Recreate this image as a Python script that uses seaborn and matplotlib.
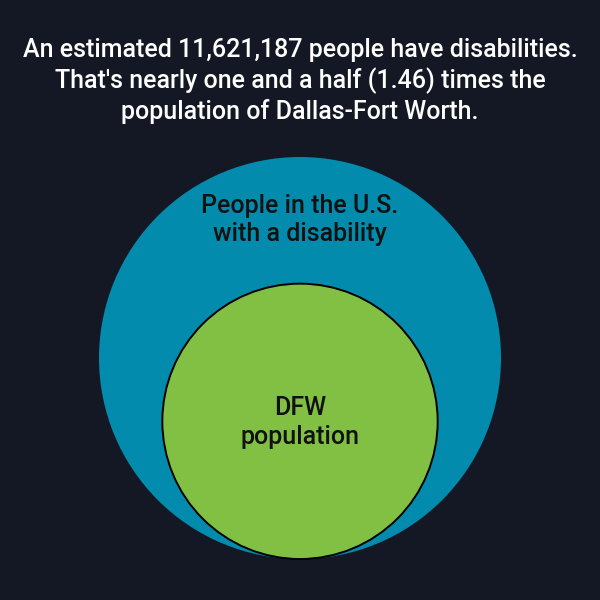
import matplotlib
matplotlib.use("Agg")
import matplotlib.pyplot as plt
import seaborn as sns
from matplotlib.patches import Circle

# data
groups = ["People in the U.S.\nwith a disability", "DFW\npopulation"]
people = [11_621_187, 7_959_717]
title_text = ("An estimated 11,621,187 people have disabilities.\n"
              "That's nearly one and a half (1.46) times the\n"
              "population of Dallas-Fort Worth.")

BG = "#141824"
colors = ["#038bae", "#82c044"]
edges = ["none", "#000000"]

sns.set_style("white")
plt.rcParams['font.family'] = ['Roboto', 'DejaVu Sans']

fig = plt.figure(figsize=(6, 6), dpi=100, facecolor=BG)
ax = fig.add_axes([0, 0, 1, 1])
ax.set_facecolor(BG)
ax.set_xlim(0, 600)
ax.set_ylim(600, 0)
ax.set_aspect('equal')
ax.axis('off')

# radius is drawn proportional to the count, circles share a bottom point
scale = 201 / people[0]
base_y = 559
label_dy = [-138, 1]
for name, val, c, ec, dy in zip(groups, people, colors, edges, label_dy):
    r = val * scale
    cy = base_y - r
    ax.add_patch(Circle((300, cy), r, facecolor=c, edgecolor=ec, lw=1.4))
    ax.text(300, cy + dy, name, ha='center', va='center',
            fontsize=18, fontweight='medium', color='#111111', linespacing=1.25)

ax.text(300, 81, title_text, ha='center', va='center', fontsize=18,
        fontweight='medium', color='white', linespacing=1.25)

plt.savefig("out.png", facecolor=BG)
